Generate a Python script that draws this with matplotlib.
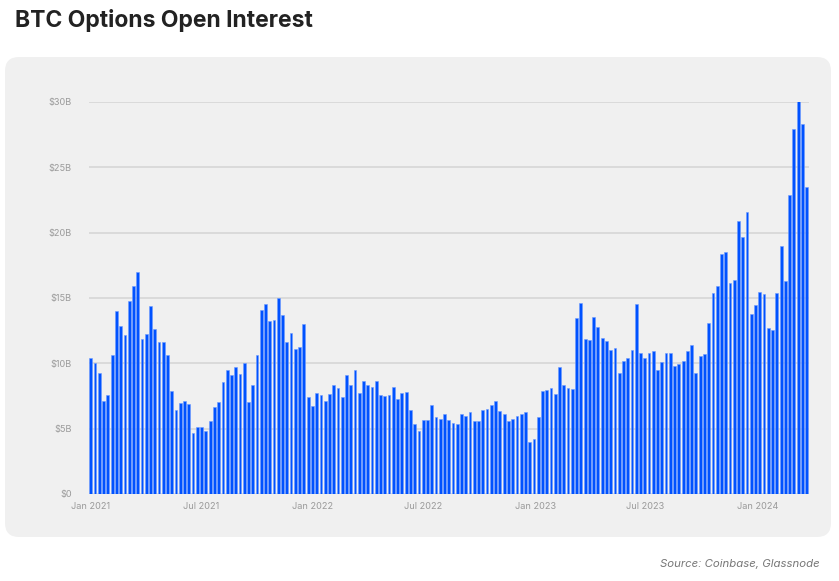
#!/usr/bin/env python3
"""BTC options open interest, weekly bars on a rounded grey panel."""
import matplotlib
matplotlib.use("Agg")
import matplotlib.pyplot as plt
import matplotlib.dates as mdates
from matplotlib.patches import FancyBboxPatch
import pandas as pd

# weekly open interest, $B
oi_2021 = [10.4, 10.02, 9.28, 7.12, 7.55, 10.61, 13.98, 12.85, 12.14, 14.79, 15.89, 16.99,
           11.89, 12.22, 14.36, 12.63, 11.61, 11.65, 10.64, 7.88, 6.45, 6.94, 7.14, 6.91,
           4.64, 5.1, 5.13, 4.85, 5.61, 6.65, 7.07, 8.57, 9.46, 9.08, 9.74, 9.21,
           10.0, 7.04, 8.32, 10.64, 14.11, 14.55, 13.25, 13.35, 14.97, 13.72, 11.63, 12.35,
           11.12, 11.27, 12.98]
oi_2022 = [7.45, 6.73, 7.73, 7.55, 7.14, 7.68, 8.34, 8.11, 7.42, 9.11, 8.34, 9.49,
           7.75, 8.65, 8.37, 8.21, 8.65, 7.55, 7.47, 7.55, 8.19, 7.29, 7.75, 7.78,
           6.43, 5.36, 4.82, 5.64, 5.69, 6.78, 5.92, 5.71, 6.12, 5.64, 5.41, 5.36,
           6.12, 5.94, 6.3, 5.59, 5.61, 6.4, 6.5, 6.81, 7.14, 6.35, 6.12, 5.61,
           5.74, 5.94, 6.1, 6.3]
oi_2023 = [4.0, 4.21, 5.92, 7.88, 7.93, 8.14, 7.68, 9.72, 8.37, 8.14, 8.06, 13.49,
           14.62, 11.89, 11.78, 13.54, 12.78, 11.91, 11.73, 11.02, 11.2, 9.23, 10.18, 10.41,
           11.05, 14.55, 10.79, 10.43, 10.79, 10.97, 9.49, 10.1, 10.79, 10.82, 9.77, 9.92,
           10.15, 10.94, 11.38, 9.26, 10.59, 10.71, 13.11, 15.38, 15.89, 18.34, 18.49, 16.12,
           16.4, 20.87, 19.69, 21.61]
oi_2024 = [13.75, 14.44, 15.46, 15.31, 12.7, 12.55, 15.38, 18.98, 16.3, 22.85, 27.93, 30.1,
           28.32, 23.49]
open_interest = oi_2021 + oi_2022 + oi_2023 + oi_2024

y_ticks = [0, 5, 10, 15, 20, 25, 30]
y_labels = ["$0", "$5B", "$10B", "$15B", "$20B", "$25B", "$30B"]
x_tick_dates = ["2021-01-01", "2021-07-01", "2022-01-01", "2022-07-01",
                "2023-01-01", "2023-07-01", "2024-01-01"]

W, H = 839, 581
BLUE = "#0052ff"
plt.rcParams["font.family"] = ["Inter", "DejaVu Sans"]

weeks = pd.date_range("2021-01-01", periods=len(open_interest), freq="7D")

fig = plt.figure(figsize=(W / 100, H / 100), dpi=100, facecolor="white")

# rounded panel behind the chart, drawn in pixel coords
bg = fig.add_axes([0, 0, 1, 1], zorder=0)
bg.set_xlim(0, W)
bg.set_ylim(H, 0)
bg.axis("off")
bg.add_patch(FancyBboxPatch((5 + 14, 57 + 14), 826 - 28, 480 - 28,
                            boxstyle="round,pad=14,rounding_size=14",
                            facecolor="#f0f0f0", edgecolor="none"))

# axes span: x 89-808.5 px, y 102 ($30B) to 494 ($0)
ax = fig.add_axes([89 / W, 1 - 494 / H, 719.5 / W, 392 / H], zorder=1)
ax.patch.set_alpha(0)
ax.bar(weeks, open_interest, width=4.6, color=BLUE, edgecolor="#6f9bff",
       linewidth=0.4, zorder=3)
ax.set_xlim(weeks[0] - pd.Timedelta(days=3), weeks[-1] + pd.Timedelta(days=3))
ax.set_ylim(0, 30)

ax.set_yticks(y_ticks, y_labels)
ax.set_xticks(pd.to_datetime(x_tick_dates))
ax.xaxis.set_major_formatter(mdates.DateFormatter("%b %Y"))
ax.tick_params(axis="both", length=0, labelsize=6.6, labelcolor="#9a9a9a")
ax.tick_params(axis="y", pad=12.5)
ax.tick_params(axis="x", pad=6)
ax.grid(axis="y", color="#d8d8d8", linewidth=1.3, zorder=1)
ax.set_axisbelow(True)
for side in ax.spines.values():
    side.set_visible(False)

fig.text(15 / W, 1 - 21 / H, "BTC Options Open Interest", fontsize=16.5, fontweight="bold",
         color="#222222", va="center", ha="left")
fig.text(820 / W, 1 - 564 / H, "Source: Coinbase, Glassnode", fontsize=8.2, style="italic",
         color="#777777", va="center", ha="right")

fig.savefig("out.png", dpi=100)
